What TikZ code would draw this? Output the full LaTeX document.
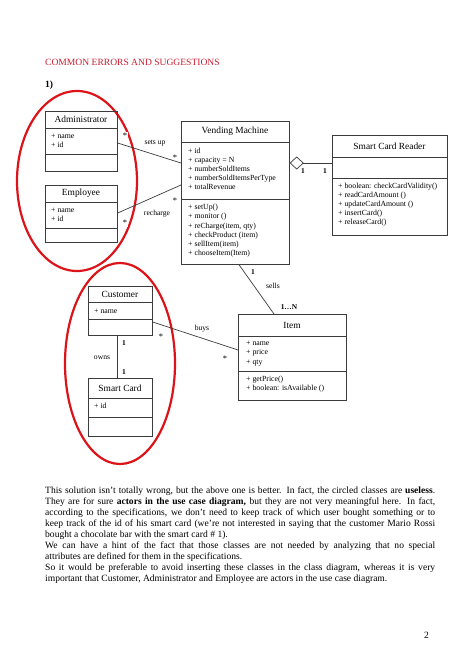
\documentclass[tikz,border=0pt]{standalone}
\usepackage{fontspec}
\setmainfont{Liberation Serif}
\usetikzlibrary{arrows.meta,calc}
\definecolor{titlered}{RGB}{200,30,50}
\definecolor{circred}{RGB}{220,20,25}
\definecolor{linegray}{RGB}{60,60,60}
\begin{document}
\begin{tikzpicture}[x=1pt,y=-1pt,
  cbox/.style n args={2}{draw=linegray,line width=0.7pt,anchor=north west,inner sep=0pt,minimum width=#1pt,minimum height=#2pt},
  div/.style={draw=linegray,line width=0.7pt},
  conn/.style={draw=linegray,line width=0.7pt},
  cname/.style={inner sep=0pt,font=\fontsize{9.4}{11}\selectfont},
  attr/.style={inner sep=0pt,anchor=base west,font=\fontsize{7.8}{9}\selectfont},
  lbl/.style={inner sep=0pt,font=\fontsize{7.6}{9}\selectfont},
  mult/.style={inner sep=0pt,font=\fontsize{7.4}{9}\selectfont\bfseries},
  star/.style={inner sep=1.2pt,font=\fontsize{8.5}{9}\selectfont},
  circ/.style={draw=circred,line width=2.2pt},
  para/.style={inner sep=0pt,anchor=base west,font=\fontsize{9.56}{11}\selectfont}
]
\useasboundingbox (0,0) rectangle (474,670);
\fill[white] (0,0) rectangle (474,670);

% headings
\node[para,text=titlered] (title) at (45,65.5) {COMMON ERRORS AND SUGGESTIONS};
\node[para,font=\fontsize{9.56}{11}\selectfont\bfseries] (num) at (45,87.5) {1)};

% red ellipses
\draw[circ] (77,181) ellipse [x radius=60pt, y radius=90pt];
\draw[circ] (120,363.5) ellipse [x radius=55pt, y radius=100.5pt];

% Administrator
\node[cbox={72}{60}] (adm) at (45,111) {};
\draw[div] (45,128) -- (117,128);
\draw[div] (45,154) -- (117,154);
\node[cname] (adm-t) at (81,119.5) {Administrator};
\node[attr] (adm-a1) at (51,138.3) {+ name};
\node[attr] (adm-a2) at (51,147.8) {+ id};

% Employee
\node[cbox={72}{57}] (emp) at (45,185) {};
\draw[div] (45,202) -- (117,202);
\draw[div] (45,228) -- (117,228);
\node[cname] (emp-t) at (81,193.5) {Employee};
\node[attr] (emp-a1) at (51,212) {+ name};
\node[attr] (emp-a2) at (51,221.5) {+ id};

% Vending Machine
\node[cbox={108}{143}] (vm) at (181,121) {};
\draw[div] (181,142) -- (289,142);
\draw[div] (181,199) -- (289,199);
\node[cname] (vm-t) at (235,131.5) {Vending Machine};
\node[attr] (vm-a1) at (188,153) {+ id};
\node[attr] (vm-a2) at (188,162.1) {+ capacity = N};
\node[attr] (vm-a3) at (188,171.2) {+ numberSoldItems};
\node[attr] (vm-a4) at (188,180.3) {+ numberSoldItemsPerType};
\node[attr] (vm-a5) at (188,189.4) {+ totalRevenue};
\node[attr] (vm-m1) at (188,209.4) {+ setUp()};
\node[attr] (vm-m2) at (188,218.7) {+ monitor ()};
\node[attr] (vm-m3) at (188,228) {+ reCharge(item, qty)};
\node[attr] (vm-m4) at (188,237.3) {+ checkProduct (item)};
\node[attr] (vm-m5) at (188,246.6) {+ sellItem(item)};
\node[attr] (vm-m6) at (188,255.9) {+ chooseItem(Item)};

% Smart Card Reader
\node[cbox={115}{100}] (scr) at (332,135) {};
\draw[div] (332,157) -- (447,157);
\draw[div] (332,178) -- (447,178);
\node[cname] (scr-t) at (389.5,146) {Smart Card Reader};
\node[attr] (scr-m1) at (338,188.5) {+ boolean: checkCardValidity()};
\node[attr] (scr-m2) at (338,197.5) {+ readCardAmount ()};
\node[attr] (scr-m3) at (338,206.5) {+ updateCardAmount ()};
\node[attr] (scr-m4) at (338,215.6) {+ insertCard()};
\node[attr] (scr-m5) at (338,224.8) {+ releaseCard()};

% Customer
\node[cbox={64}{49}] (cust) at (88,286) {};
\draw[div] (88,302) -- (152,302);
\draw[div] (88,319) -- (152,319);
\node[cname] (cust-t) at (120,294) {Customer};
\node[attr] (cust-a1) at (94,313) {+ name};

% Smart Card
\node[cbox={64}{58}] (card) at (88,378) {};
\draw[div] (88,398) -- (152,398);
\draw[div] (88,417) -- (152,417);
\node[cname] (card-t) at (120,388) {Smart Card};
\node[attr] (card-a1) at (94,408.5) {+ id};

% Item
\node[cbox={108}{86}] (item) at (238,314) {};
\draw[div] (238,336) -- (346,336);
\draw[div] (238,371) -- (346,371);
\node[cname] (item-t) at (292,325) {Item};
\node[attr] (item-a1) at (246,345.5) {+ name};
\node[attr] (item-a2) at (246,354.8) {+ price};
\node[attr] (item-a3) at (246,364.2) {+ qty};
\node[attr] (item-m1) at (246,381.2) {+ getPrice()};
\node[attr] (item-m2) at (246,390.5) {+ boolean: isAvailable ()};

% connectors
\draw[conn] (adm.east |- 0,143) -- (vm.west |- 0,163);
\draw[conn] (emp.east |- 0,213) -- (vm.west |- 0,185);
\draw[conn,-{Diamond[open,length=14pt,width=13pt,line width=0.7pt]}] (scr.west |- 0,163) -- (vm.east |- 0,163);
\draw[conn] (vm.south -| 239,0) -- (item.north -| 274,0);
\draw[conn] (cust.east |- 0,322) -- (item.west |- 0,350);
\draw[conn] (cust.south -| 117,0) -- (card.north -| 117,0);

% association labels
\node[lbl] (l-setsup) at (155,143) {sets up};
\node[lbl] (l-recharge) at (157,214) {recharge};
\node[lbl] (l-sells) at (273,286) {sells};
\node[lbl] (l-buys) at (202,329) {buys};
\node[lbl] (l-owns) at (102,358) {owns};

% multiplicities
\node[mult] (m-d1) at (303,171) {1};
\node[mult] (m-d2) at (325,171) {1};
\node[mult] (m-s1) at (253,272) {1};
\node[mult] (m-s2) at (289,307) {1\dots N};
\node[mult] (m-o1) at (124,343) {1};
\node[mult] (m-o2) at (124,372) {1};
\node[star,fill=white] (s-a1) at (125,136) {*};
\node[star] (s-a2) at (175,158) {*};
\node[star] (s-e1) at (175,201) {*};
\node[star,fill=white] (s-e2) at (125,223) {*};
\node[star] (s-b1) at (161,337) {*};
\node[star] (s-b2) at (225,359) {*};

% paragraph
\node[para] (p1) at (45,493) {\makebox[390pt][s]{This solution isn’t totally wrong, but the above one is better. In fact, the circled classes are \textbf{useless}.}};
\node[para] (p2) at (45,504) {\makebox[390pt][s]{They are for sure \textbf{actors in the use case diagram,} but they are not very meaningful here. In fact,}};
\node[para] (p3) at (45,515) {\makebox[390pt][s]{according to the specifications, we don’t need to keep track of which user bought something or to}};
\node[para] (p4) at (45,526) {\makebox[390pt][s]{keep track of the id of his smart card (we’re not interested in saying that the customer Mario Rossi}};
\node[para] (p5) at (45,537) {bought a chocolate bar with the smart card \# 1).};
\node[para] (p6) at (45,548) {\makebox[390pt][s]{We can have a hint of the fact that those classes are not needed by analyzing that no special}};
\node[para] (p7) at (45,559) {attributes are defined for them in the specifications.};
\node[para] (p8) at (45,570) {\makebox[390pt][s]{So it would be preferable to avoid inserting these classes in the class diagram, whereas it is very}};
\node[para] (p9) at (45,581) {important that Customer, Administrator and Employee are actors in the use case diagram.};

\node[para] (page) at (424,638.5) {2};
\end{tikzpicture}
\end{document}
